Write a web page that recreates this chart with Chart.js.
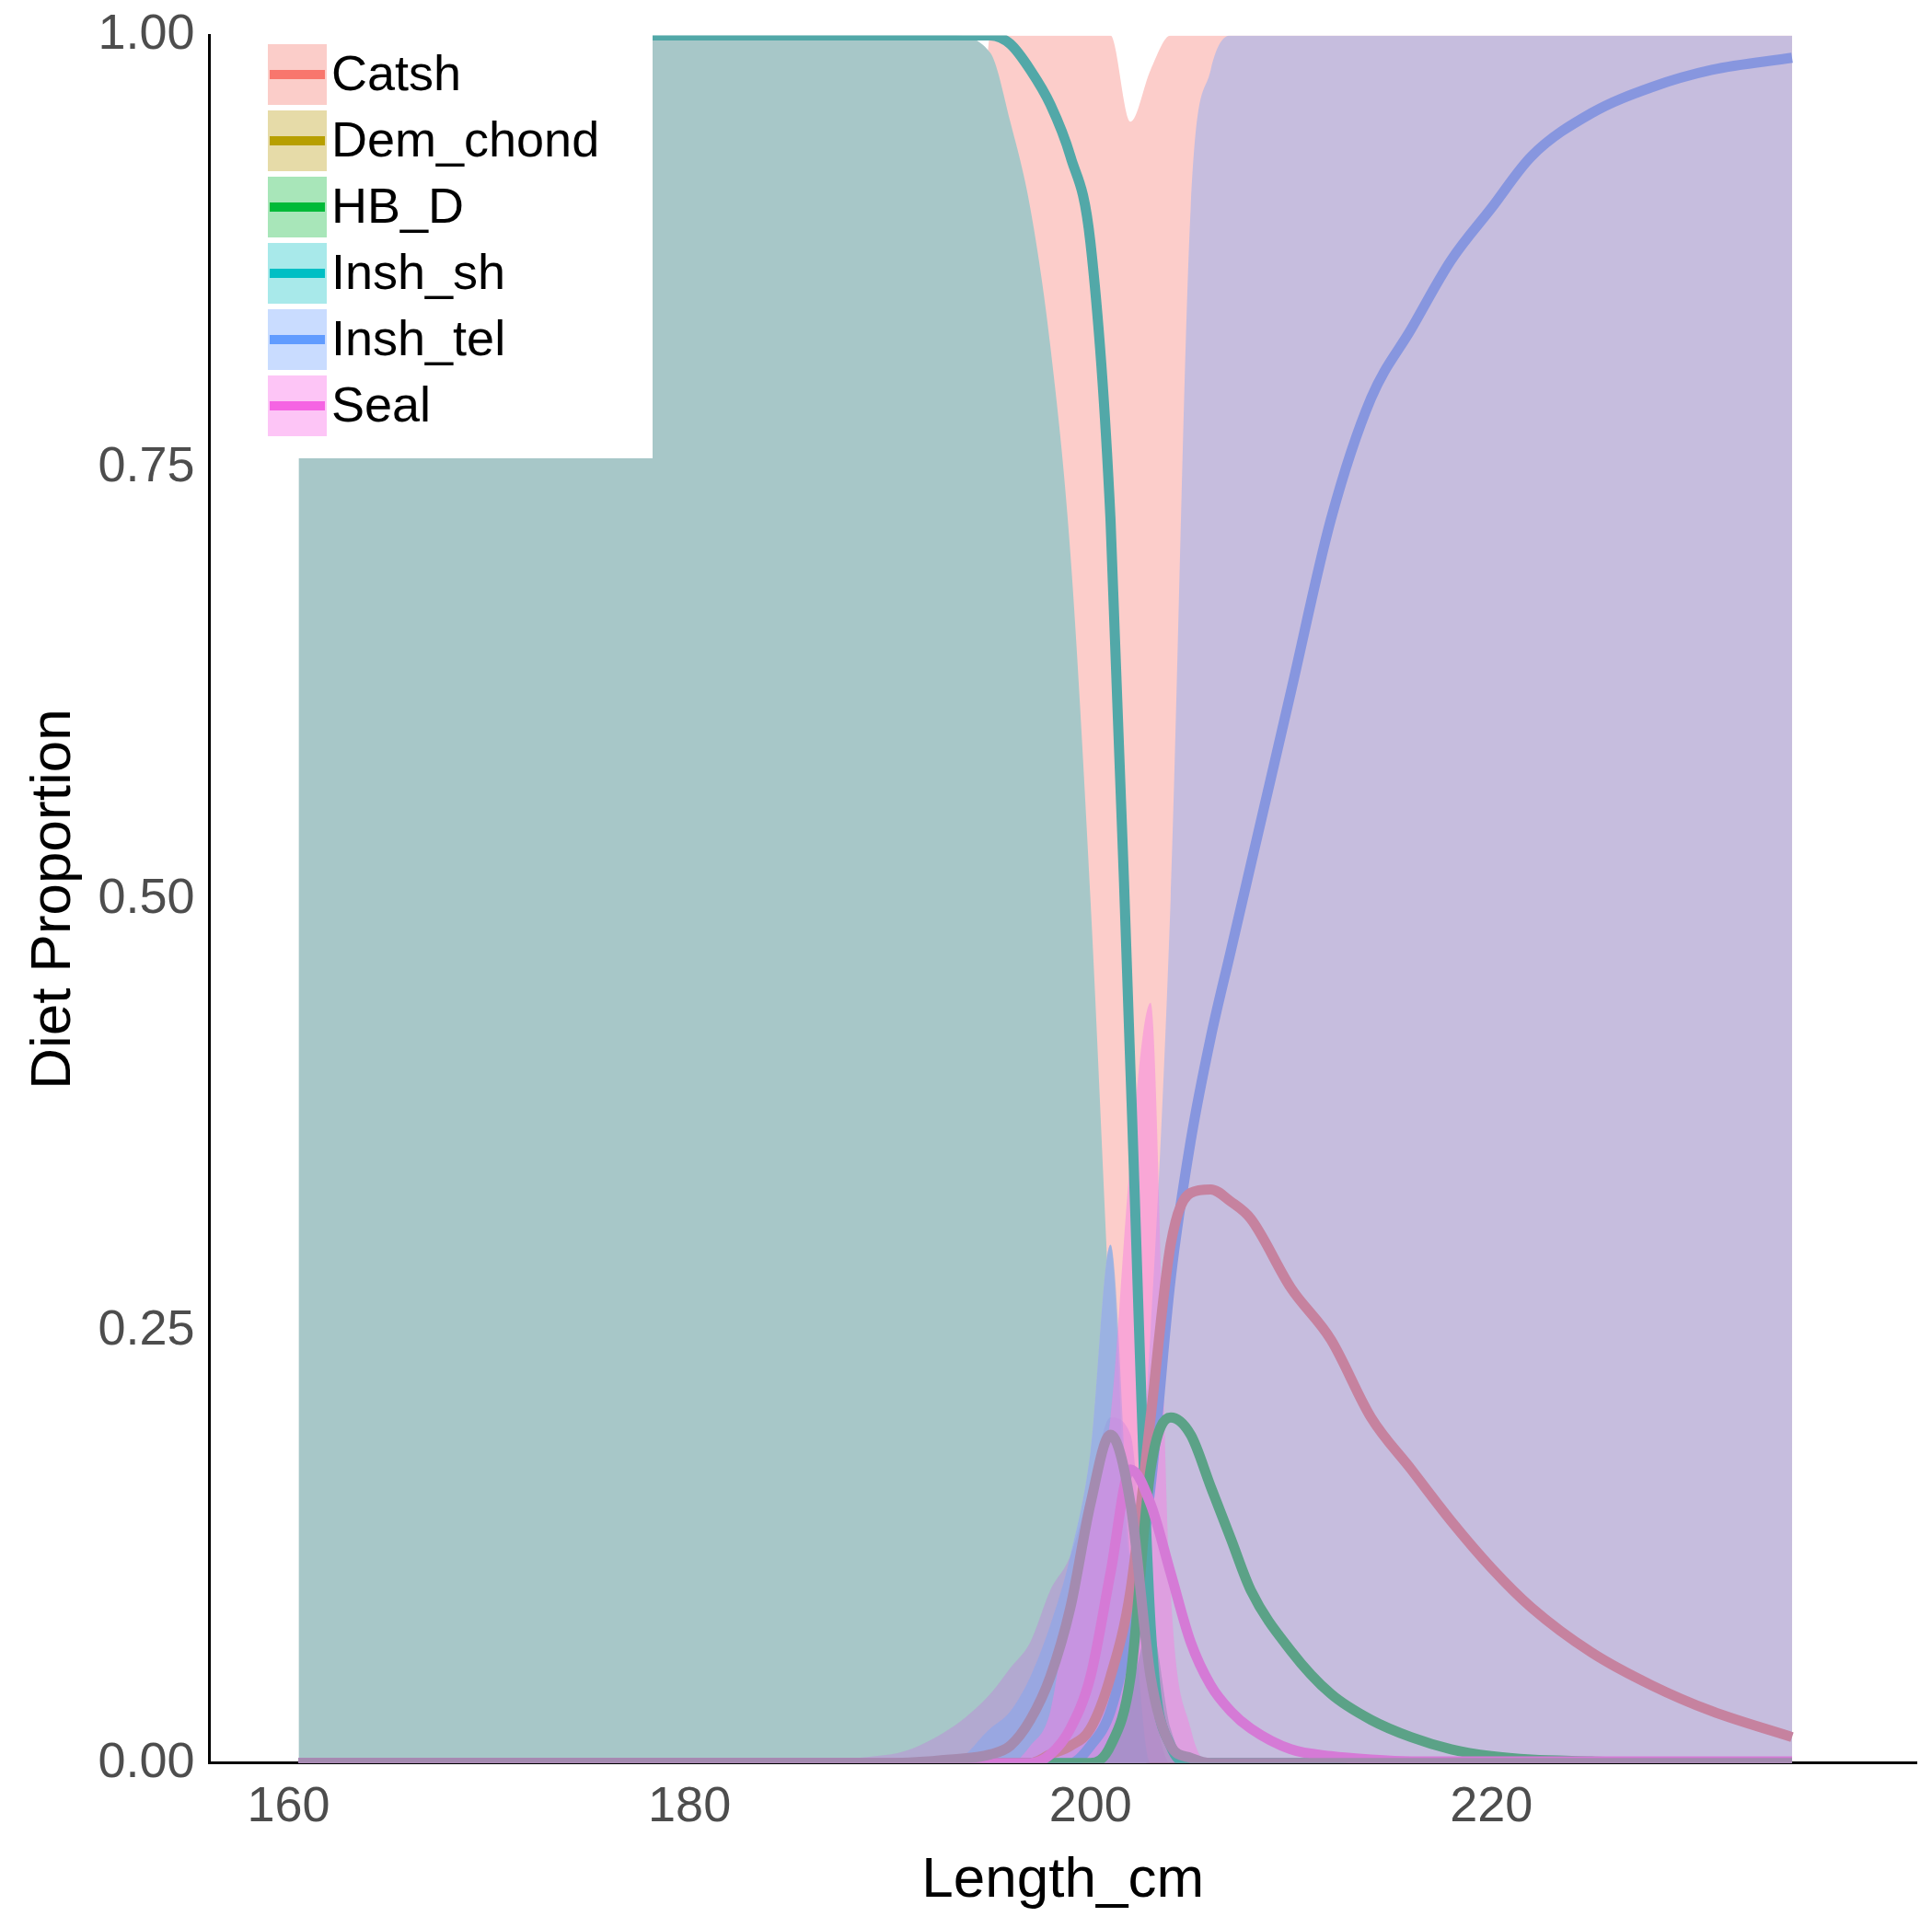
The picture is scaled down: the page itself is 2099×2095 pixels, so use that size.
<!DOCTYPE html>
<html>
<head>
<script src="https://cdn.jsdelivr.net/npm/chart.js@4/dist/chart.umd.min.js"></script>
<style>body{margin:0;background:#fff}#c{display:block}</style>
</head>
<body>
<div style="width:2099px;height:2095px"><canvas id="c"></canvas></div>
<script>
const lengths = [160.5,180,190,193,195,196,197,198,199,200,201,202,203,204,205,206,207,208,210,212,214,216,218,220,222,225,228,231,235];

// mean diet proportions (lines)
const catshMean  = [0,0,0,0,0,0,0,0.005,0.01,0.02,0.05,0.1,0.2,0.3,0.33,0.332,0.325,0.315,0.275,0.245,0.2,0.17,0.14,0.113,0.09,0.064,0.045,0.03,0.015];
const demMean    = [0,0,0,0.002,0.005,0.01,0.025,0.05,0.09,0.15,0.19,0.15,0.05,0.01,0.003,0,0,0,0,0,0,0,0,0,0,0,0,0,0];
const hbdMean    = [0,0,0,0,0,0,0,0,0,0,0.01,0.05,0.17,0.2,0.19,0.16,0.13,0.1,0.065,0.04,0.025,0.015,0.008,0.004,0.002,0.001,0,0,0];
const inshShMean = [1,1,1,1,1,0.995,0.98,0.96,0.93,0.88,0.72,0.4,0.08,0.01,0,0,0,0,0,0,0,0,0,0,0,0,0,0,0];
const inshTelMean= [0,0,0,0,0,0,0,0,0,0.01,0.03,0.08,0.16,0.28,0.36,0.42,0.47,0.52,0.62,0.72,0.79,0.83,0.87,0.9,0.93,0.955,0.97,0.98,0.987];
const sealMean   = [0,0,0,0,0,0,0,0.005,0.02,0.05,0.11,0.17,0.15,0.11,0.07,0.045,0.03,0.02,0.008,0.004,0.002,0.001,0.001,0.001,0.001,0.001,0.001,0.001,0.001];

// upper interval bounds (filled areas)
const catshHi  = [0,0,0,0,1,1,1,1,1,1,1,0.95,0.98,1,1,1,1,1,1,1,1,1,1,1,1,1,1,1,1];
const demHi    = [0,0,0.005,0.02,0.04,0.055,0.07,0.1,0.12,0.16,0.2,0.19,0.05,0,0,0,0,0,0,0,0,0,0,0,0,0,0,0,0];
const hbdHi    = [0,0,0,0,0,0,0,0,0,0,0.01,0.04,0.08,0.02,0,0,0,0,0,0,0,0,0,0,0,0,0,0,0];
const inshShHi = [1,1,1,1,0.99,0.95,0.9,0.82,0.7,0.5,0.25,0.03,0,0,0,0,0,0,0,0,0,0,0,0,0,0,0,0,0];
const inshTelHi= [0,0,0,0,0.02,0.03,0.05,0.08,0.12,0.18,0.3,0.12,0.25,0.5,0.9,0.98,1,1,1,1,1,1,1,1,1,1,1,1,1];
const sealHi   = [0,0,0,0,0,0,0.01,0.03,0.1,0.15,0.2,0.35,0.44,0.1,0.02,0,0,0,0,0,0,0,0,0,0,0,0,0,0];

const xTicks = [160,180,200,220];
const yTicks = [0,0.25,0.5,0.75,1];
const legendNames = ['Catsh','Dem_chond','HB_D','Insh_sh','Insh_tel','Seal'];
const legendLine = ['#F8766D','#B79F00','#00BA38','#00BFC4','#619CFF','#F564E3'];
const legendFill = ['#FBCDC9','#E6DBA8','#A8E6B9','#A8E9EA','#C9DCFF','#FDC5F6'];

const pts = v => lengths.map((x, i) => ({x: x, y: v[i]}));
function area(v, color, order) {
  return {data: pts(v), backgroundColor: color, borderWidth: 0, fill: 'origin', pointRadius: 0, order: order, cubicInterpolationMode: 'monotone'};
}
function line(v, color) {
  return {data: pts(v), borderColor: color, borderWidth: 11, fill: false, pointRadius: 0, order: 0, cubicInterpolationMode: 'monotone'};
}

const legendBox = {
  id: 'legendBox',
  afterDraw(chart) {
    const c = chart.ctx;
    c.save();
    c.fillStyle = '#fff';
    c.fillRect(235, 20, 474, 478);
    c.font = '54px "Liberation Sans", sans-serif';
    c.textBaseline = 'middle';
    legendNames.forEach((n, i) => {
      const y = 81 + i * 72;
      c.fillStyle = legendFill[i];
      c.fillRect(291, y - 33, 64, 66);
      c.fillStyle = legendLine[i];
      c.fillRect(293, y - 5, 60, 10);
      c.fillStyle = '#000';
      c.fillText(n, 360, y + 2);
    });
    c.restore();
  }
};

new Chart(document.getElementById('c'), {
  type: 'line',
  data: {
    datasets: [
      area(catshHi, '#FCCDCA', 10),
      area(inshShHi, '#A7C7C8', 9),
      area(inshTelHi, '#C6BDDE', 8),
      area(demHi, 'rgba(190,140,215,0.5)', 7),
      area(inshTelHi.map((v, i) => lengths[i] <= 202 ? v : 0), 'rgba(120,170,230,0.55)', 6),
      area(sealHi, 'rgba(245,130,225,0.5)', 5),
      area(hbdHi, 'rgba(140,140,180,0.5)', 4),
      line(demMean, '#A48BB0'),
      line(sealMean, '#D57AD6'),
      line(hbdMean, '#5BA287'),
      line(catshMean, '#C6829F'),
      line(inshShMean, '#52A8A8'),
      line(inshTelMean, '#8796DF')
    ]
  },
  plugins: [legendBox],
  options: {
    responsive: true,
    maintainAspectRatio: false,
    animation: false,
    layout: {padding: {top: 20, right: 17, left: 18, bottom: 10}},
    plugins: {legend: {display: false}, tooltip: {enabled: false}},
    scales: {
      x: {
        type: 'linear', min: 156.05, max: 241.2,
        afterBuildTicks: a => { a.ticks = xTicks.map(v => ({value: v})); },
        grid: {display: false, drawTicks: true, tickLength: 10, tickWidth: 3, tickColor: '#333'},
        border: {display: true, color: '#000', width: 3},
        ticks: {color: '#4D4D4D', font: {size: 54, family: 'Liberation Sans'}, padding: 6},
        title: {display: true, text: 'Length_cm', color: '#000', font: {size: 62, family: 'Liberation Sans'}}
      },
      y: {
        min: 0, max: 1,
        afterBuildTicks: a => { a.ticks = yTicks.map(v => ({value: v})); },
        grid: {display: false, drawTicks: true, tickLength: 10, tickWidth: 3, tickColor: '#333'},
        border: {display: true, color: '#000', width: 3},
        ticks: {color: '#4D4D4D', font: {size: 54, family: 'Liberation Sans'}, padding: 6, callback: v => v.toFixed(2)},
        title: {display: true, text: 'Diet Proportion', color: '#000', font: {size: 62, family: 'Liberation Sans'}}
      }
    }
  }
});
</script>
</body>
</html>
